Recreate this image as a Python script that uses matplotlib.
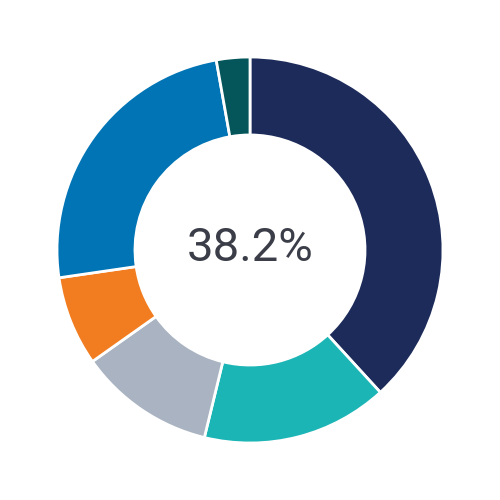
import matplotlib
matplotlib.use("Agg")
import matplotlib.pyplot as plt

labels = ["A", "B", "C", "D", "E", "F"]
values = [38.2, 15.6, 11.4, 7.5, 24.5, 2.8]
colors = ["#1c2b5a", "#1bb5b6", "#a9b3c1", "#f27d20", "#0074b4", "#04565a"]
center_label = "38.2%"

fig = plt.figure(figsize=(5, 5), dpi=100)
ax = fig.add_axes([0, 0, 1, 1])
ax.pie(values, colors=colors, startangle=90, counterclock=False, radius=1,
       wedgeprops=dict(width=0.404, edgecolor="white", linewidth=2.0))
ax.text(0, 0.01, center_label, ha="center", va="center", fontsize=34,
        family=["Roboto", "DejaVu Sans"], color="#3b3e48")
lim = 250 / 193
ax.set_xlim(-lim, lim)
ax.set_ylim(-lim, lim)
ax.set_aspect("equal")
ax.axis("off")
fig.savefig("out.png", dpi=100, facecolor="white")
